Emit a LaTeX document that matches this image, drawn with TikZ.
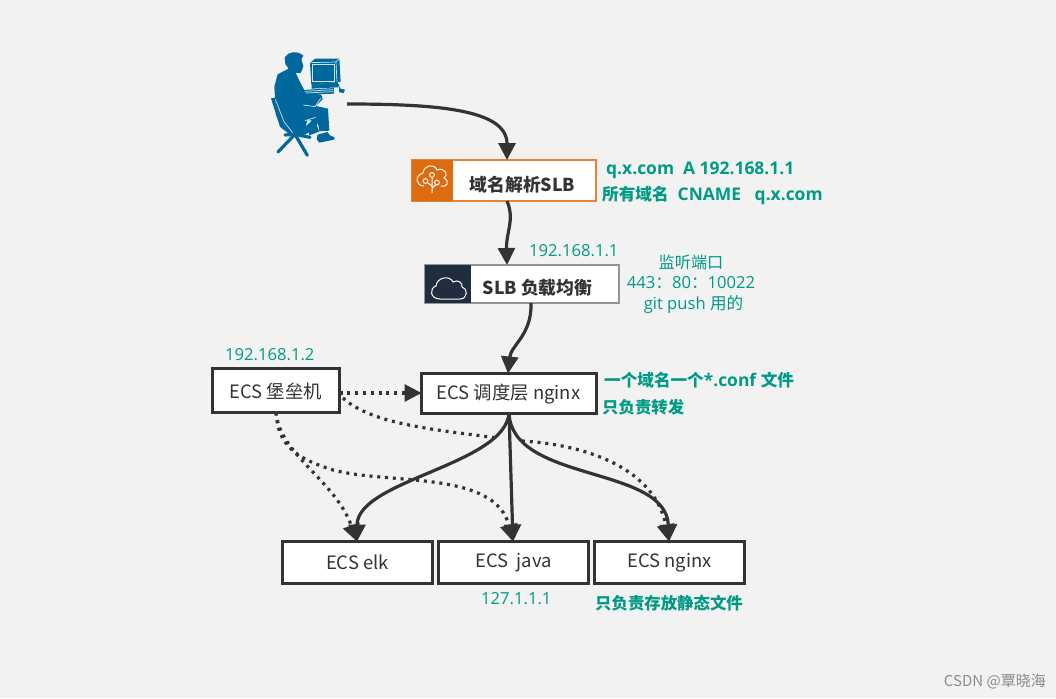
\documentclass[tikz,border=0pt]{standalone}
\usepackage{fontspec}
\setmainfont{Open Sans}[BoldFeatures={Scale=1.05}]
\newfontfamily\cj{Noto Sans CJK SC}
\usetikzlibrary{arrows.meta}
\definecolor{bgc}{HTML}{F2F2F2}
\definecolor{ink}{HTML}{333333}
\definecolor{teal}{HTML}{009A85}
\definecolor{orangec}{HTML}{DD6B10}
\definecolor{orangeb}{HTML}{E58437}
\definecolor{navyc}{HTML}{1F2D3F}
\definecolor{blu}{HTML}{00689C}
\definecolor{blul}{HTML}{CFE3EE}
\newcommand{\boxfont}{\fontsize{18.4}{20}\selectfont\cj}
\tikzset{
  x=1pt,y=-1pt,
  box/.style={draw=ink,line width=3.2pt,fill=white,minimum height=42pt,inner sep=0pt,outer sep=0pt,text=ink,font=\boxfont},
  flat/.style={line width=1.6pt,fill=white,inner sep=0pt,outer sep=0pt,text=ink},
  solidarrow/.style={draw=ink,line width=3.2pt,-{Triangle[length=17pt,width=17pt]}},
  dotarrow/.style={draw=ink,line width=3.2pt,dash pattern=on 3pt off 4.8pt,-{Triangle[length=17pt,width=17pt]}},
  dotline/.style={draw=ink,line width=3.2pt,dash pattern=on 3pt off 4.8pt},
  tealthin/.style={text=teal,inner sep=0pt,font=\fontsize{16.6}{20}\selectfont},
  tealbold/.style={text=teal,inner sep=0pt,font=\fontsize{16.6}{20}\selectfont\bfseries},
  lab/.style={inner sep=0pt},
  wheel/.style={blu,line width=3.2pt,line cap=round},
  hairline/.style={blul,line width=.7pt}
}
\begin{document}
\begin{tikzpicture}
\useasboundingbox (0,0) rectangle (1056,698);
\fill[bgc] (0,0) rectangle (1056,698);
% person
\begin{scope}[shift={(250,40)},x=0.3333pt,y=-0.3333pt]
 \fill[blu] (104,52) .. controls (115,34) and (142,31) .. (160,47) -- (154,58) -- (160,78) -- (157,88) -- (152,99) -- (137,99) -- (140,105) -- (152,130) -- (167,158) -- (214,164) -- (218,178) -- (198,198) -- (234,206) -- (238,272) -- (208,274) -- (203,244) -- (172,240) -- (165,268) -- (125,282) -- (95,264) -- (78,225) -- (73,140) -- (83,103) -- (116,86) -- (106,72) -- cycle;
 \fill[blu] (63,175) -- (78,173) -- (100,240) -- (125,276) -- (160,266) -- (195,233) -- (205,240) -- (200,264) -- (165,284) -- (120,284) -- (90,260) -- cycle;
 \draw[hairline] (76,178) -- (102,245) -- (128,278);
 \draw[hairline] (165,242) -- (197,232);
 \draw[hairline] (160,195) -- (195,200) -- (212,175);
 \fill[blu] (203,284) -- (232,276) -- (240,286) -- (254,292) -- (252,299) -- (208,308) -- (200,298) -- cycle;
 \fill[blu] (175,264) -- (202,260) -- (207,275) -- (178,286) -- cycle;
 \draw[wheel] (135,283) -- (84,336);
 \draw[wheel] (135,283) -- (172,346);
 \draw[wheel] (135,283) -- (105,285);
 \draw[wheel] (135,283) -- (180,292);
 \fill[blu] (180,68) -- (196,56) -- (268,56) -- (272,125) -- (184,134) -- cycle;
 \draw[hairline] (180,68) -- (258,66) -- (268,56) (258,66) -- (261,126);
 \draw[hairline] (186,72) rectangle (253,124);
 \fill[blu] (160,150) -- (252,144) -- (252,161) -- (170,164) -- cycle;
 \draw[hairline] (165,154) -- (250,149) (168,159) -- (250,155);
 \fill[blu] (185,133) -- (264,126) -- (264,142) -- (185,146) -- cycle;
 \draw[blu,line width=1pt] (262,130) .. controls (270,135) and (262,150) .. (282,152);
 \fill[blu] (266,146) -- (285,149) -- (281,159) -- (268,157) -- cycle;
\end{scope}
% dns box
\node[flat,draw=orangeb,minimum width=184pt,minimum height=41pt,anchor=north west] (dns) at (412,160) {};
\node[fill=orangec,inner sep=0pt,outer sep=0pt,minimum width=41pt,minimum height=41pt,anchor=north west] (dnsicon) at (412,160) {};
\node[lab,font=\fontsize{17.8}{20}\selectfont\bfseries\cj,text=ink] (dnslabel) at (522.5,184.5) {域名解析SLB};
\begin{scope}[white,line width=1pt]
 \draw (424,186) .. controls (416,186) and (414,176) .. (423,173) .. controls (424,165) and (434,163) .. (437,170) .. controls (445,167) and (449,175) .. (444,178) .. controls (451,182) and (446,188) .. (441,186);
 \draw (432,193) -- (432,177) (432,186) -- (426.5,182) (432,188) -- (437,184);
 \draw[fill=orangec] (432,175) circle (2.4) (425.5,181) circle (2.4) (437,182.5) circle (2.4);
\end{scope}
% slb box
\node[flat,draw=black!42,minimum width=194pt,minimum height=38pt,anchor=north west] (slb) at (425,265) {};
\node[fill=navyc,inner sep=0pt,outer sep=0pt,minimum width=46pt,minimum height=38pt,anchor=north west] (slbicon) at (425,265) {};
\node[lab,font=\fontsize{17.8}{20}\selectfont\bfseries\cj,text=ink] (slblabel) at (537.5,288) {SLB 负载均衡};
\draw[white,line width=1pt] (440,299) .. controls (430,299) and (429,288) .. (436,286) .. controls (437,277) and (450,275) .. (453,282) .. controls (458,279) and (463,283) .. (462,287) .. controls (468,288) and (468,299) .. (460,299) -- cycle;
% boxes
\node[box,minimum width=175pt,minimum height=40pt,anchor=north west] (nginx) at (421.5,373.5) {};
\node[lab,font=\boxfont,text=ink] (nginxlabel) at (508.5,394.5) {ECS 调度层 nginx};
\node[box,minimum width=127pt,minimum height=44pt,anchor=north west] (bastion) at (212.5,368.5) {};
\node[lab,font=\boxfont,text=ink] (bastionlabel) at (276,391) {ECS 堡垒机};
\node[box,minimum width=150pt,anchor=north west] (elk) at (282.5,541.5) {\raisebox{-1pt}{ECS elk}};
\node[box,minimum width=150pt,anchor=north west] (java) at (438.5,541.5) {\raisebox{-1pt}{ECS\ \ java}};
\node[box,minimum width=150pt,anchor=north west] (ngx) at (594.5,541.5) {\raisebox{-1pt}{ECS nginx}};
% user anchor
\coordinate (user) at (347,104);
\coordinate (hub) at (509,413);
% dotted connectors
\draw[dotarrow] (bastion.east |- 0,393) -- (nginx.west |- 0,393);
\draw[dotline] (343,398) .. controls (372,425) and (440,430) .. (497,438);
\draw[dotarrow] (522,441) .. controls (590,445) and (655,470) .. (ngx.north -| 669,0);
\draw[dotarrow] (bastion.south -| 276,0) .. controls (280,455) and (335,480) .. (elk.north -| 357,0);
\draw[dotarrow] (bastion.south -| 276,0) .. controls (278,445) and (295,458) .. (333,470) .. controls (390,485) and (495,470) .. (java.north -| 513,0);
% solid connectors
\draw[solidarrow] (user) .. controls (440,104) and (507,110) .. (dns.north -| 507,0);
\draw[solidarrow] (507,201) .. controls (515,220) and (506,232) .. (slb.north -| 507,0);
\draw[solidarrow] (slb.south -| 531,0) .. controls (532,335) and (511,345) .. (nginx.north -| 508,0);
\draw[solidarrow] (hub) .. controls (505,465) and (357,480) .. (elk.north -| 357,0);
\draw[solidarrow] (hub) -- (java.north -| 513,0);
\draw[solidarrow] (hub) .. controls (512,483) and (666,465) .. (ngx.north -| 669,0);
% labels
\node[tealbold,anchor=west] (t1) at (606,170) {q.x.com\ \ A 192.168.1.1};
\node[tealbold,anchor=west] (t2) at (602,195) {{\cj 所有域名}\ \ CNAME\ \ \ q.x.com};
\node[tealthin,anchor=west] (t3) at (529,251) {192.168.1.1};
\node[tealthin,font=\fontsize{16.2}{18}\selectfont\cj] (t4) at (691,262.5) {监听端口};
\node[tealthin] (t5) at (691,283) {443{\cj ：}80{\cj ：}10022};
\node[tealthin] (t6) at (693.5,304) {git push {\cj 用的}};
\node[tealthin,anchor=west] (t7) at (225,355) {192.168.1.2};
\node[tealbold,anchor=west] (t8) at (604,380) {{\cj 一个域名一个}*.conf {\cj 文件}};
\node[tealbold,anchor=west,font=\fontsize{16.4}{20}\selectfont\bfseries\cj] (t9) at (602,407) {只负责转发};
\node[tealthin,anchor=west] (t10) at (481,599) {127.1.1.1};
\node[tealbold,anchor=west,font=\fontsize{16.4}{20}\selectfont\bfseries\cj] (t11) at (595,603) {只负责存放静态文件};
\node[anchor=east,inner sep=0pt,text=black!45,font=\fontsize{15}{16}\selectfont\cj] (wm) at (1046,681) {CSDN @覃晓海};
\end{tikzpicture}
\end{document}
